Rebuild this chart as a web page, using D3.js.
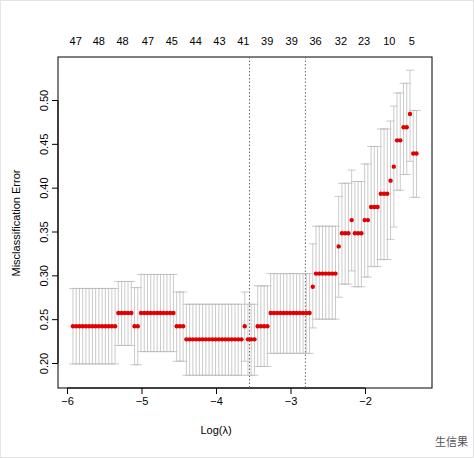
<!DOCTYPE html>
<html><head><meta charset="utf-8">
<script src="https://cdn.jsdelivr.net/npm/d3@7"></script>
<style>body{margin:0;background:#fff}svg{font-family:"Liberation Sans",Arial,sans-serif}</style>
</head><body><svg id="c" width="474" height="458"></svg>
<script>
// runs of identical CV error along the lambda path (left to right)
const runCounts = [14,5,2,11,3,18,1,3,4,13,1,7,1,3,1,3,2,3,3,1,1,2,2,1,2];
const runErr = [0.242,0.257,0.242,0.257,0.242,0.227,0.242,0.227,0.242,0.257,0.287,0.302,0.333,0.348,0.363,0.348,0.363,0.378,0.393,0.408,0.424,0.454,0.469,0.484,0.439];
const runUp  = [0.285,0.293,0.286,0.301,0.281,0.267,0.281,0.267,0.288,0.302,0.336,0.356,0.390,0.405,0.420,0.407,0.427,0.447,0.467,0.476,0.493,0.508,0.519,0.534,0.488];
const runLo  = [0.199,0.220,0.198,0.213,0.202,0.186,0.202,0.186,0.196,0.211,0.240,0.250,0.275,0.290,0.305,0.287,0.298,0.310,0.318,0.341,0.355,0.397,0.415,0.430,0.389];
const logStart = -5.92, logStep = 0.0435;
const topTicks = [-5.89,-5.58,-5.26,-4.92,-4.60,-4.28,-3.96,-3.64,-3.32,-2.99,-2.67,-2.33,-2.02,-1.68,-1.38];
const topLabels = ["47","48","48","47","45","44","43","41","39","39","36","32","23","10","5"];
const vlines = [-3.55,-2.80];
const xTicks = [-6,-5,-4,-3,-2];
const yTicks = [0.20,0.25,0.30,0.35,0.40,0.45,0.50];

const pts = [];
runCounts.forEach((n,i)=>{ for(let k=0;k<n;k++) pts.push({e:runErr[i],u:runUp[i],l:runLo[i]}); });
pts.forEach((p,i)=>p.x = logStart + i*logStep);

const svg = d3.select("#c");
svg.append("rect").attr("x",0.5).attr("y",0.5).attr("width",473).attr("height",457).attr("fill","none").attr("stroke","#e4e4e4");
const L=58,R=432,T=57,B=388;
const x = d3.scaleLinear().domain([-6,-2]).range([67,365]);
const y = d3.scaleLinear().domain([0.20,0.50]).range([363,100]);

svg.append("rect").attr("x",L).attr("y",T).attr("width",R-L).attr("height",B-T).attr("fill","none").attr("stroke","#000");

svg.append("g").attr("transform",`translate(0,${B})`).call(d3.axisBottom(x).tickValues(xTicks).tickSize(6).tickFormat(d=>d3.format("")(d).replace("-","−")))
  .call(g=>g.select(".domain").attr("d",`M${x(-6)},0H${x(-2)}`)).attr("font-size",11);
svg.append("g").attr("transform",`translate(${L},0)`).call(d3.axisLeft(y).tickValues(yTicks).tickSize(6).tickFormat(d3.format(".2f")))
  .call(g=>g.select(".domain").attr("d",`M0,${y(0.2)}V${y(0.5)}`))
  .call(g=>g.selectAll("text").attr("transform",function(){return `rotate(-90,${-9},0)`}).attr("x",-9).attr("dy","-0.1em").attr("text-anchor","middle"))
  .attr("font-size",11);
svg.append("g").attr("transform",`translate(0,${T})`).call(d3.axisTop(x).tickValues(topTicks).tickSize(0).tickPadding(12).tickFormat((d,i)=>topLabels[i]))
  .call(g=>g.select(".domain").remove()).attr("font-size",11);

svg.selectAll(".vl").data(vlines).join("line").attr("x1",d=>x(d)).attr("x2",d=>x(d)).attr("y1",T).attr("y2",B)
  .attr("stroke","#666").attr("stroke-dasharray","1.5,2");

const eb = svg.append("g").attr("stroke","#bdbdbd").attr("stroke-width",0.8);
pts.forEach(p=>{
  const cx=x(p.x);
  eb.append("line").attr("x1",cx).attr("x2",cx).attr("y1",y(p.u)).attr("y2",y(p.l));
  eb.append("line").attr("x1",cx-4).attr("x2",cx+4).attr("y1",y(p.u)).attr("y2",y(p.u));
  eb.append("line").attr("x1",cx-4).attr("x2",cx+4).attr("y1",y(p.l)).attr("y2",y(p.l));
});
svg.selectAll(".pt").data(pts).join("circle").attr("cx",d=>x(d.x)).attr("cy",d=>y(d.e)).attr("r",2.2).attr("fill","#e00000");

svg.append("text").attr("x",x(-4)).attr("y",434).attr("text-anchor","middle").attr("font-size",11).text("Log(λ)");
svg.append("text").attr("transform","translate(20,223) rotate(-90)").attr("text-anchor","middle").attr("font-size",11).text("Misclassification Error");
svg.append("text").attr("x",468).attr("y",446).attr("text-anchor","end").attr("font-size",11).attr("fill","#555").attr("font-family","Noto Sans CJK SC").text("生信果");
</script></body></html>
